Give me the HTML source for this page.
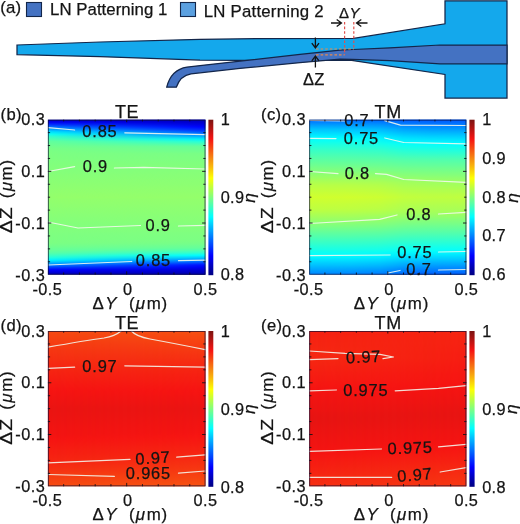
<!DOCTYPE html>
<html><head><meta charset="utf-8"><title>Figure</title>
<style>html,body{margin:0;padding:0;background:#fff;}svg{display:block;}text{font-family:"Liberation Sans", Arial, sans-serif;fill:#141414;stroke:#141414;stroke-width:0.25px;}</style>
</head><body>
<svg width="520" height="524" viewBox="0 0 520 524">
<rect x="0" y="0" width="520" height="524" fill="#ffffff"/>
<defs><linearGradient id="cb" x1="0" y1="0" x2="0" y2="1"><stop offset="0.0000" stop-color="#7b1412"/><stop offset="0.0208" stop-color="#901412"/><stop offset="0.0417" stop-color="#a41412"/><stop offset="0.0625" stop-color="#b91412"/><stop offset="0.0833" stop-color="#cd1412"/><stop offset="0.1042" stop-color="#e21412"/><stop offset="0.1250" stop-color="#f61412"/><stop offset="0.1458" stop-color="#f62812"/><stop offset="0.1667" stop-color="#f63b12"/><stop offset="0.1875" stop-color="#f64f12"/><stop offset="0.2083" stop-color="#f66312"/><stop offset="0.2292" stop-color="#f67612"/><stop offset="0.2500" stop-color="#f68a12"/><stop offset="0.2708" stop-color="#f79c0f"/><stop offset="0.2917" stop-color="#f9af0d"/><stop offset="0.3125" stop-color="#fac20a"/><stop offset="0.3333" stop-color="#fbd608"/><stop offset="0.3542" stop-color="#fcea05"/><stop offset="0.3750" stop-color="#feff03"/><stop offset="0.3958" stop-color="#eaff16"/><stop offset="0.4167" stop-color="#d4ff2b"/><stop offset="0.4375" stop-color="#bfff40"/><stop offset="0.4583" stop-color="#aaff55"/><stop offset="0.4792" stop-color="#95ff6a"/><stop offset="0.5000" stop-color="#80ff80"/><stop offset="0.5208" stop-color="#6aff95"/><stop offset="0.5417" stop-color="#55ffaa"/><stop offset="0.5625" stop-color="#40ffbf"/><stop offset="0.5833" stop-color="#2affd5"/><stop offset="0.6042" stop-color="#15ffea"/><stop offset="0.6250" stop-color="#00ffff"/><stop offset="0.6458" stop-color="#00eaff"/><stop offset="0.6667" stop-color="#00d5ff"/><stop offset="0.6875" stop-color="#00bfff"/><stop offset="0.7083" stop-color="#00aaff"/><stop offset="0.7292" stop-color="#0095ff"/><stop offset="0.7500" stop-color="#0080ff"/><stop offset="0.7708" stop-color="#006aff"/><stop offset="0.7917" stop-color="#0055ff"/><stop offset="0.8125" stop-color="#0040ff"/><stop offset="0.8333" stop-color="#002aff"/><stop offset="0.8542" stop-color="#0015ff"/><stop offset="0.8750" stop-color="#0000ff"/><stop offset="0.8958" stop-color="#0000ea"/><stop offset="0.9167" stop-color="#0000d5"/><stop offset="0.9375" stop-color="#0000bf"/><stop offset="0.9583" stop-color="#0000aa"/><stop offset="0.9792" stop-color="#000095"/><stop offset="1.0000" stop-color="#000080"/></linearGradient><linearGradient id="gbL" x1="0" y1="0" x2="0" y2="1"><stop offset="0.0000" stop-color="#0000bf"/><stop offset="0.0156" stop-color="#0000f2"/><stop offset="0.0312" stop-color="#0030ff"/><stop offset="0.0469" stop-color="#006fff"/><stop offset="0.0625" stop-color="#00a9ff"/><stop offset="0.0781" stop-color="#00e1ff"/><stop offset="0.0938" stop-color="#0efff1"/><stop offset="0.1094" stop-color="#35ffca"/><stop offset="0.1250" stop-color="#4dffb2"/><stop offset="0.1406" stop-color="#62ff9d"/><stop offset="0.1562" stop-color="#69ff96"/><stop offset="0.1719" stop-color="#70ff8f"/><stop offset="0.1875" stop-color="#77ff88"/><stop offset="0.2031" stop-color="#7bff84"/><stop offset="0.2188" stop-color="#7cff83"/><stop offset="0.2344" stop-color="#7dff82"/><stop offset="0.2500" stop-color="#7eff81"/><stop offset="0.2656" stop-color="#80ff7f"/><stop offset="0.2812" stop-color="#81ff7e"/><stop offset="0.2969" stop-color="#82ff7d"/><stop offset="0.3125" stop-color="#83ff7c"/><stop offset="0.3281" stop-color="#84ff7b"/><stop offset="0.3438" stop-color="#85ff7a"/><stop offset="0.3594" stop-color="#87ff78"/><stop offset="0.3750" stop-color="#88ff77"/><stop offset="0.3906" stop-color="#8aff75"/><stop offset="0.4062" stop-color="#8bff74"/><stop offset="0.4219" stop-color="#8dff72"/><stop offset="0.4375" stop-color="#8eff71"/><stop offset="0.4531" stop-color="#90ff6f"/><stop offset="0.4688" stop-color="#91ff6e"/><stop offset="0.4844" stop-color="#93ff6c"/><stop offset="0.5000" stop-color="#94ff6b"/><stop offset="0.5156" stop-color="#92ff6d"/><stop offset="0.5312" stop-color="#91ff6e"/><stop offset="0.5469" stop-color="#8fff70"/><stop offset="0.5625" stop-color="#8eff71"/><stop offset="0.5781" stop-color="#8cff73"/><stop offset="0.5938" stop-color="#8bff74"/><stop offset="0.6094" stop-color="#89ff76"/><stop offset="0.6250" stop-color="#88ff77"/><stop offset="0.6406" stop-color="#86ff79"/><stop offset="0.6562" stop-color="#85ff7a"/><stop offset="0.6719" stop-color="#84ff7b"/><stop offset="0.6875" stop-color="#83ff7c"/><stop offset="0.7031" stop-color="#82ff7d"/><stop offset="0.7188" stop-color="#80ff7f"/><stop offset="0.7344" stop-color="#7fff80"/><stop offset="0.7500" stop-color="#7eff81"/><stop offset="0.7656" stop-color="#7dff82"/><stop offset="0.7812" stop-color="#7cff83"/><stop offset="0.7969" stop-color="#7bff84"/><stop offset="0.8125" stop-color="#75ff8a"/><stop offset="0.8281" stop-color="#6dff92"/><stop offset="0.8438" stop-color="#66ff99"/><stop offset="0.8594" stop-color="#58ffa7"/><stop offset="0.8750" stop-color="#3fffc0"/><stop offset="0.8906" stop-color="#21ffde"/><stop offset="0.9062" stop-color="#00f4ff"/><stop offset="0.9219" stop-color="#00bdff"/><stop offset="0.9375" stop-color="#007fff"/><stop offset="0.9531" stop-color="#003bff"/><stop offset="0.9688" stop-color="#0001ff"/><stop offset="0.9844" stop-color="#0000d9"/><stop offset="1.0000" stop-color="#0000b2"/></linearGradient><linearGradient id="gbR" x1="0" y1="0" x2="0" y2="1"><stop offset="0.0000" stop-color="#0000b3"/><stop offset="0.0156" stop-color="#0000ca"/><stop offset="0.0312" stop-color="#0000e2"/><stop offset="0.0469" stop-color="#0001ff"/><stop offset="0.0625" stop-color="#0021ff"/><stop offset="0.0781" stop-color="#004eff"/><stop offset="0.0938" stop-color="#007bff"/><stop offset="0.1094" stop-color="#00b6ff"/><stop offset="0.1250" stop-color="#00f1ff"/><stop offset="0.1406" stop-color="#24ffdb"/><stop offset="0.1562" stop-color="#46ffb9"/><stop offset="0.1719" stop-color="#62ff9d"/><stop offset="0.1875" stop-color="#6aff95"/><stop offset="0.2031" stop-color="#71ff8e"/><stop offset="0.2188" stop-color="#79ff86"/><stop offset="0.2344" stop-color="#7cff83"/><stop offset="0.2500" stop-color="#7dff82"/><stop offset="0.2656" stop-color="#7fff80"/><stop offset="0.2812" stop-color="#81ff7e"/><stop offset="0.2969" stop-color="#82ff7d"/><stop offset="0.3125" stop-color="#84ff7b"/><stop offset="0.3281" stop-color="#85ff7a"/><stop offset="0.3438" stop-color="#87ff78"/><stop offset="0.3594" stop-color="#88ff77"/><stop offset="0.3750" stop-color="#89ff76"/><stop offset="0.3906" stop-color="#8bff74"/><stop offset="0.4062" stop-color="#8cff73"/><stop offset="0.4219" stop-color="#8dff72"/><stop offset="0.4375" stop-color="#8fff70"/><stop offset="0.4531" stop-color="#90ff6f"/><stop offset="0.4688" stop-color="#91ff6e"/><stop offset="0.4844" stop-color="#93ff6c"/><stop offset="0.5000" stop-color="#94ff6b"/><stop offset="0.5156" stop-color="#92ff6d"/><stop offset="0.5312" stop-color="#91ff6e"/><stop offset="0.5469" stop-color="#90ff6f"/><stop offset="0.5625" stop-color="#8eff71"/><stop offset="0.5781" stop-color="#8dff72"/><stop offset="0.5938" stop-color="#8cff73"/><stop offset="0.6094" stop-color="#8bff74"/><stop offset="0.6250" stop-color="#89ff76"/><stop offset="0.6406" stop-color="#88ff77"/><stop offset="0.6562" stop-color="#87ff78"/><stop offset="0.6719" stop-color="#85ff7a"/><stop offset="0.6875" stop-color="#84ff7b"/><stop offset="0.7031" stop-color="#82ff7d"/><stop offset="0.7188" stop-color="#81ff7e"/><stop offset="0.7344" stop-color="#7fff80"/><stop offset="0.7500" stop-color="#7eff81"/><stop offset="0.7656" stop-color="#7dff82"/><stop offset="0.7812" stop-color="#7bff84"/><stop offset="0.7969" stop-color="#76ff89"/><stop offset="0.8125" stop-color="#6dff92"/><stop offset="0.8281" stop-color="#64ff9b"/><stop offset="0.8438" stop-color="#4effb1"/><stop offset="0.8594" stop-color="#2fffd0"/><stop offset="0.8750" stop-color="#00fdff"/><stop offset="0.8906" stop-color="#00c7ff"/><stop offset="0.9062" stop-color="#0086ff"/><stop offset="0.9219" stop-color="#004aff"/><stop offset="0.9375" stop-color="#000fff"/><stop offset="0.9531" stop-color="#0000f1"/><stop offset="0.9688" stop-color="#0000d3"/><stop offset="0.9844" stop-color="#0000bd"/><stop offset="1.0000" stop-color="#0000a8"/></linearGradient><linearGradient id="mbg" x1="0" y1="0" x2="1" y2="0"><stop offset="0.0000" stop-color="#ffffff" stop-opacity="0.000"/><stop offset="1.0000" stop-color="#ffffff" stop-opacity="1.000"/></linearGradient><mask id="mb" maskContentUnits="userSpaceOnUse"><rect x="47.9" y="0" width="157.6" height="524" fill="url(#mbg)"/></mask><linearGradient id="gcL" x1="0" y1="0" x2="0" y2="1"><stop offset="0.0000" stop-color="#006aff"/><stop offset="0.0156" stop-color="#0082ff"/><stop offset="0.0312" stop-color="#0099ff"/><stop offset="0.0469" stop-color="#00afff"/><stop offset="0.0625" stop-color="#00c4ff"/><stop offset="0.0781" stop-color="#00d4ff"/><stop offset="0.0938" stop-color="#00e4ff"/><stop offset="0.1094" stop-color="#00f4ff"/><stop offset="0.1250" stop-color="#04fffb"/><stop offset="0.1406" stop-color="#0ffff0"/><stop offset="0.1562" stop-color="#1bffe4"/><stop offset="0.1719" stop-color="#27ffd8"/><stop offset="0.1875" stop-color="#32ffcd"/><stop offset="0.2031" stop-color="#3cffc3"/><stop offset="0.2188" stop-color="#45ffba"/><stop offset="0.2344" stop-color="#4effb1"/><stop offset="0.2500" stop-color="#56ffa9"/><stop offset="0.2656" stop-color="#5fffa0"/><stop offset="0.2812" stop-color="#67ff98"/><stop offset="0.2969" stop-color="#70ff8f"/><stop offset="0.3125" stop-color="#79ff86"/><stop offset="0.3281" stop-color="#81ff7e"/><stop offset="0.3438" stop-color="#8aff75"/><stop offset="0.3594" stop-color="#93ff6c"/><stop offset="0.3750" stop-color="#9cff63"/><stop offset="0.3906" stop-color="#a6ff59"/><stop offset="0.4062" stop-color="#afff50"/><stop offset="0.4219" stop-color="#b8ff47"/><stop offset="0.4375" stop-color="#bdff42"/><stop offset="0.4531" stop-color="#c2ff3d"/><stop offset="0.4688" stop-color="#c7ff38"/><stop offset="0.4844" stop-color="#ccff33"/><stop offset="0.5000" stop-color="#d1ff2e"/><stop offset="0.5156" stop-color="#cdff32"/><stop offset="0.5312" stop-color="#c9ff36"/><stop offset="0.5469" stop-color="#c5ff3a"/><stop offset="0.5625" stop-color="#c2ff3d"/><stop offset="0.5781" stop-color="#beff41"/><stop offset="0.5938" stop-color="#b6ff49"/><stop offset="0.6094" stop-color="#adff52"/><stop offset="0.6250" stop-color="#a4ff5b"/><stop offset="0.6406" stop-color="#9bff64"/><stop offset="0.6562" stop-color="#92ff6d"/><stop offset="0.6719" stop-color="#88ff77"/><stop offset="0.6875" stop-color="#7eff81"/><stop offset="0.7031" stop-color="#73ff8c"/><stop offset="0.7188" stop-color="#69ff96"/><stop offset="0.7344" stop-color="#5effa1"/><stop offset="0.7500" stop-color="#54ffab"/><stop offset="0.7656" stop-color="#49ffb6"/><stop offset="0.7812" stop-color="#3fffc0"/><stop offset="0.7969" stop-color="#35ffca"/><stop offset="0.8125" stop-color="#2affd5"/><stop offset="0.8281" stop-color="#20ffdf"/><stop offset="0.8438" stop-color="#16ffe9"/><stop offset="0.8594" stop-color="#0bfff4"/><stop offset="0.8750" stop-color="#01fffe"/><stop offset="0.8906" stop-color="#00f1ff"/><stop offset="0.9062" stop-color="#00e2ff"/><stop offset="0.9219" stop-color="#00d2ff"/><stop offset="0.9375" stop-color="#00c3ff"/><stop offset="0.9531" stop-color="#00b3ff"/><stop offset="0.9688" stop-color="#00a4ff"/><stop offset="0.9844" stop-color="#0094ff"/><stop offset="1.0000" stop-color="#0085ff"/></linearGradient><linearGradient id="gcR" x1="0" y1="0" x2="0" y2="1"><stop offset="0.0000" stop-color="#0057ff"/><stop offset="0.0156" stop-color="#0068ff"/><stop offset="0.0312" stop-color="#0079ff"/><stop offset="0.0469" stop-color="#008aff"/><stop offset="0.0625" stop-color="#009bff"/><stop offset="0.0781" stop-color="#00adff"/><stop offset="0.0938" stop-color="#00beff"/><stop offset="0.1094" stop-color="#00cfff"/><stop offset="0.1250" stop-color="#00dfff"/><stop offset="0.1406" stop-color="#00efff"/><stop offset="0.1562" stop-color="#01fffe"/><stop offset="0.1719" stop-color="#0dfff2"/><stop offset="0.1875" stop-color="#19ffe6"/><stop offset="0.2031" stop-color="#25ffda"/><stop offset="0.2188" stop-color="#31ffce"/><stop offset="0.2344" stop-color="#3effc1"/><stop offset="0.2500" stop-color="#4affb5"/><stop offset="0.2656" stop-color="#55ffaa"/><stop offset="0.2812" stop-color="#5dffa2"/><stop offset="0.2969" stop-color="#65ff9a"/><stop offset="0.3125" stop-color="#6eff91"/><stop offset="0.3281" stop-color="#76ff89"/><stop offset="0.3438" stop-color="#7eff81"/><stop offset="0.3594" stop-color="#86ff79"/><stop offset="0.3750" stop-color="#8fff70"/><stop offset="0.3906" stop-color="#97ff68"/><stop offset="0.4062" stop-color="#9fff60"/><stop offset="0.4219" stop-color="#a4ff5b"/><stop offset="0.4375" stop-color="#aaff55"/><stop offset="0.4531" stop-color="#afff50"/><stop offset="0.4688" stop-color="#b4ff4b"/><stop offset="0.4844" stop-color="#baff45"/><stop offset="0.5000" stop-color="#beff41"/><stop offset="0.5156" stop-color="#baff45"/><stop offset="0.5312" stop-color="#b6ff49"/><stop offset="0.5469" stop-color="#b1ff4e"/><stop offset="0.5625" stop-color="#adff52"/><stop offset="0.5781" stop-color="#a9ff56"/><stop offset="0.5938" stop-color="#a4ff5b"/><stop offset="0.6094" stop-color="#9cff63"/><stop offset="0.6250" stop-color="#93ff6c"/><stop offset="0.6406" stop-color="#89ff76"/><stop offset="0.6562" stop-color="#80ff7f"/><stop offset="0.6719" stop-color="#77ff88"/><stop offset="0.6875" stop-color="#6dff92"/><stop offset="0.7031" stop-color="#64ff9b"/><stop offset="0.7188" stop-color="#5affa5"/><stop offset="0.7344" stop-color="#50ffaf"/><stop offset="0.7500" stop-color="#45ffba"/><stop offset="0.7656" stop-color="#3affc5"/><stop offset="0.7812" stop-color="#30ffcf"/><stop offset="0.7969" stop-color="#25ffda"/><stop offset="0.8125" stop-color="#1affe5"/><stop offset="0.8281" stop-color="#0ffff0"/><stop offset="0.8438" stop-color="#05fffa"/><stop offset="0.8594" stop-color="#00f5ff"/><stop offset="0.8750" stop-color="#00e4ff"/><stop offset="0.8906" stop-color="#00d3ff"/><stop offset="0.9062" stop-color="#00c3ff"/><stop offset="0.9219" stop-color="#00b1ff"/><stop offset="0.9375" stop-color="#00a0ff"/><stop offset="0.9531" stop-color="#008eff"/><stop offset="0.9688" stop-color="#007dff"/><stop offset="0.9844" stop-color="#006cff"/><stop offset="1.0000" stop-color="#005cff"/></linearGradient><linearGradient id="mcg" x1="0" y1="0" x2="1" y2="0"><stop offset="0.0000" stop-color="#ffffff" stop-opacity="0.000"/><stop offset="0.2595" stop-color="#ffffff" stop-opacity="0.050"/><stop offset="0.4504" stop-color="#ffffff" stop-opacity="0.250"/><stop offset="0.5267" stop-color="#ffffff" stop-opacity="0.500"/><stop offset="0.6031" stop-color="#ffffff" stop-opacity="0.780"/><stop offset="0.7684" stop-color="#ffffff" stop-opacity="0.950"/><stop offset="1.0000" stop-color="#ffffff" stop-opacity="1.000"/></linearGradient><mask id="mc" maskContentUnits="userSpaceOnUse"><rect x="309.2" y="0" width="157.2" height="524" fill="url(#mcg)"/></mask><linearGradient id="gdL" x1="0" y1="0" x2="0" y2="1"><stop offset="0.0000" stop-color="#f64a12"/><stop offset="0.0156" stop-color="#f64712"/><stop offset="0.0312" stop-color="#f64512"/><stop offset="0.0469" stop-color="#f64212"/><stop offset="0.0625" stop-color="#f64012"/><stop offset="0.0781" stop-color="#f63d12"/><stop offset="0.0938" stop-color="#f63b12"/><stop offset="0.1094" stop-color="#f63912"/><stop offset="0.1250" stop-color="#f63612"/><stop offset="0.1406" stop-color="#f63412"/><stop offset="0.1562" stop-color="#f63212"/><stop offset="0.1719" stop-color="#f63012"/><stop offset="0.1875" stop-color="#f62e12"/><stop offset="0.2031" stop-color="#f62b12"/><stop offset="0.2188" stop-color="#f62912"/><stop offset="0.2344" stop-color="#f62712"/><stop offset="0.2500" stop-color="#f62512"/><stop offset="0.2656" stop-color="#f62312"/><stop offset="0.2812" stop-color="#f62112"/><stop offset="0.2969" stop-color="#f61f12"/><stop offset="0.3125" stop-color="#f61d12"/><stop offset="0.3281" stop-color="#f61b12"/><stop offset="0.3438" stop-color="#f61912"/><stop offset="0.3594" stop-color="#f61712"/><stop offset="0.3750" stop-color="#f61512"/><stop offset="0.3906" stop-color="#f51412"/><stop offset="0.4062" stop-color="#f41412"/><stop offset="0.4219" stop-color="#f21412"/><stop offset="0.4375" stop-color="#f11412"/><stop offset="0.4531" stop-color="#ef1412"/><stop offset="0.4688" stop-color="#ee1412"/><stop offset="0.4844" stop-color="#ec1412"/><stop offset="0.5000" stop-color="#eb1412"/><stop offset="0.5156" stop-color="#eb1412"/><stop offset="0.5312" stop-color="#ec1412"/><stop offset="0.5469" stop-color="#ec1412"/><stop offset="0.5625" stop-color="#ed1412"/><stop offset="0.5781" stop-color="#ee1412"/><stop offset="0.5938" stop-color="#ef1412"/><stop offset="0.6094" stop-color="#f01412"/><stop offset="0.6250" stop-color="#f11412"/><stop offset="0.6406" stop-color="#f21412"/><stop offset="0.6562" stop-color="#f21412"/><stop offset="0.6719" stop-color="#f31412"/><stop offset="0.6875" stop-color="#f51412"/><stop offset="0.7031" stop-color="#f61512"/><stop offset="0.7188" stop-color="#f61712"/><stop offset="0.7344" stop-color="#f61912"/><stop offset="0.7500" stop-color="#f61b12"/><stop offset="0.7656" stop-color="#f61d12"/><stop offset="0.7812" stop-color="#f61e12"/><stop offset="0.7969" stop-color="#f62012"/><stop offset="0.8125" stop-color="#f62212"/><stop offset="0.8281" stop-color="#f62412"/><stop offset="0.8438" stop-color="#f62612"/><stop offset="0.8594" stop-color="#f62912"/><stop offset="0.8750" stop-color="#f62d12"/><stop offset="0.8906" stop-color="#f63112"/><stop offset="0.9062" stop-color="#f63512"/><stop offset="0.9219" stop-color="#f63912"/><stop offset="0.9375" stop-color="#f63d12"/><stop offset="0.9531" stop-color="#f64112"/><stop offset="0.9688" stop-color="#f64512"/><stop offset="0.9844" stop-color="#f64912"/><stop offset="1.0000" stop-color="#f64d12"/></linearGradient><linearGradient id="gdR" x1="0" y1="0" x2="0" y2="1"><stop offset="0.0000" stop-color="#f65012"/><stop offset="0.0156" stop-color="#f64d12"/><stop offset="0.0312" stop-color="#f64a12"/><stop offset="0.0469" stop-color="#f64712"/><stop offset="0.0625" stop-color="#f64412"/><stop offset="0.0781" stop-color="#f64112"/><stop offset="0.0938" stop-color="#f63e12"/><stop offset="0.1094" stop-color="#f63b12"/><stop offset="0.1250" stop-color="#f63912"/><stop offset="0.1406" stop-color="#f63612"/><stop offset="0.1562" stop-color="#f63312"/><stop offset="0.1719" stop-color="#f63112"/><stop offset="0.1875" stop-color="#f62e12"/><stop offset="0.2031" stop-color="#f62b12"/><stop offset="0.2188" stop-color="#f62912"/><stop offset="0.2344" stop-color="#f62612"/><stop offset="0.2500" stop-color="#f62412"/><stop offset="0.2656" stop-color="#f62212"/><stop offset="0.2812" stop-color="#f62012"/><stop offset="0.2969" stop-color="#f61e12"/><stop offset="0.3125" stop-color="#f61d12"/><stop offset="0.3281" stop-color="#f61b12"/><stop offset="0.3438" stop-color="#f61912"/><stop offset="0.3594" stop-color="#f61712"/><stop offset="0.3750" stop-color="#f61512"/><stop offset="0.3906" stop-color="#f51412"/><stop offset="0.4062" stop-color="#f41412"/><stop offset="0.4219" stop-color="#f21412"/><stop offset="0.4375" stop-color="#f11412"/><stop offset="0.4531" stop-color="#ef1412"/><stop offset="0.4688" stop-color="#ee1412"/><stop offset="0.4844" stop-color="#ec1412"/><stop offset="0.5000" stop-color="#eb1412"/><stop offset="0.5156" stop-color="#eb1412"/><stop offset="0.5312" stop-color="#ec1412"/><stop offset="0.5469" stop-color="#ed1412"/><stop offset="0.5625" stop-color="#ee1412"/><stop offset="0.5781" stop-color="#ef1412"/><stop offset="0.5938" stop-color="#f01412"/><stop offset="0.6094" stop-color="#f11412"/><stop offset="0.6250" stop-color="#f21412"/><stop offset="0.6406" stop-color="#f31412"/><stop offset="0.6562" stop-color="#f41412"/><stop offset="0.6719" stop-color="#f61512"/><stop offset="0.6875" stop-color="#f61712"/><stop offset="0.7031" stop-color="#f61912"/><stop offset="0.7188" stop-color="#f61b12"/><stop offset="0.7344" stop-color="#f61d12"/><stop offset="0.7500" stop-color="#f62012"/><stop offset="0.7656" stop-color="#f62212"/><stop offset="0.7812" stop-color="#f62412"/><stop offset="0.7969" stop-color="#f62612"/><stop offset="0.8125" stop-color="#f62912"/><stop offset="0.8281" stop-color="#f62c12"/><stop offset="0.8438" stop-color="#f62f12"/><stop offset="0.8594" stop-color="#f63212"/><stop offset="0.8750" stop-color="#f63512"/><stop offset="0.8906" stop-color="#f63812"/><stop offset="0.9062" stop-color="#f63b12"/><stop offset="0.9219" stop-color="#f63f12"/><stop offset="0.9375" stop-color="#f64312"/><stop offset="0.9531" stop-color="#f64712"/><stop offset="0.9688" stop-color="#f64b12"/><stop offset="0.9844" stop-color="#f64f12"/><stop offset="1.0000" stop-color="#f65312"/></linearGradient><linearGradient id="mdg" x1="0" y1="0" x2="1" y2="0"><stop offset="0.0000" stop-color="#ffffff" stop-opacity="0.000"/><stop offset="1.0000" stop-color="#ffffff" stop-opacity="1.000"/></linearGradient><mask id="md" maskContentUnits="userSpaceOnUse"><rect x="47.9" y="0" width="157.6" height="524" fill="url(#mdg)"/></mask><linearGradient id="geL" x1="0" y1="0" x2="0" y2="1"><stop offset="0.0000" stop-color="#f62112"/><stop offset="0.0156" stop-color="#f62112"/><stop offset="0.0312" stop-color="#f62212"/><stop offset="0.0469" stop-color="#f62312"/><stop offset="0.0625" stop-color="#f62412"/><stop offset="0.0781" stop-color="#f62512"/><stop offset="0.0938" stop-color="#f62512"/><stop offset="0.1094" stop-color="#f62612"/><stop offset="0.1250" stop-color="#f62712"/><stop offset="0.1406" stop-color="#f62812"/><stop offset="0.1562" stop-color="#f62912"/><stop offset="0.1719" stop-color="#f62812"/><stop offset="0.1875" stop-color="#f62712"/><stop offset="0.2031" stop-color="#f62512"/><stop offset="0.2188" stop-color="#f62412"/><stop offset="0.2344" stop-color="#f62212"/><stop offset="0.2500" stop-color="#f62112"/><stop offset="0.2656" stop-color="#f61f12"/><stop offset="0.2812" stop-color="#f61e12"/><stop offset="0.2969" stop-color="#f61c12"/><stop offset="0.3125" stop-color="#f61b12"/><stop offset="0.3281" stop-color="#f61912"/><stop offset="0.3438" stop-color="#f61812"/><stop offset="0.3594" stop-color="#f61612"/><stop offset="0.3750" stop-color="#f61412"/><stop offset="0.3906" stop-color="#f51412"/><stop offset="0.4062" stop-color="#f41412"/><stop offset="0.4219" stop-color="#f21412"/><stop offset="0.4375" stop-color="#f11412"/><stop offset="0.4531" stop-color="#f01412"/><stop offset="0.4688" stop-color="#ef1412"/><stop offset="0.4844" stop-color="#ee1412"/><stop offset="0.5000" stop-color="#ed1412"/><stop offset="0.5156" stop-color="#ec1412"/><stop offset="0.5312" stop-color="#ea1412"/><stop offset="0.5469" stop-color="#e91412"/><stop offset="0.5625" stop-color="#e81412"/><stop offset="0.5781" stop-color="#e81412"/><stop offset="0.5938" stop-color="#e91412"/><stop offset="0.6094" stop-color="#ea1412"/><stop offset="0.6250" stop-color="#eb1412"/><stop offset="0.6406" stop-color="#ec1412"/><stop offset="0.6562" stop-color="#ed1412"/><stop offset="0.6719" stop-color="#ee1412"/><stop offset="0.6875" stop-color="#ef1412"/><stop offset="0.7031" stop-color="#f01412"/><stop offset="0.7188" stop-color="#f11412"/><stop offset="0.7344" stop-color="#f21412"/><stop offset="0.7500" stop-color="#f31412"/><stop offset="0.7656" stop-color="#f41412"/><stop offset="0.7812" stop-color="#f61412"/><stop offset="0.7969" stop-color="#f61612"/><stop offset="0.8125" stop-color="#f61812"/><stop offset="0.8281" stop-color="#f61a12"/><stop offset="0.8438" stop-color="#f61c12"/><stop offset="0.8594" stop-color="#f61d12"/><stop offset="0.8750" stop-color="#f61f12"/><stop offset="0.8906" stop-color="#f62112"/><stop offset="0.9062" stop-color="#f62312"/><stop offset="0.9219" stop-color="#f62512"/><stop offset="0.9375" stop-color="#f62712"/><stop offset="0.9531" stop-color="#f62912"/><stop offset="0.9688" stop-color="#f62b12"/><stop offset="0.9844" stop-color="#f62d12"/><stop offset="1.0000" stop-color="#f63012"/></linearGradient><linearGradient id="geR" x1="0" y1="0" x2="0" y2="1"><stop offset="0.0000" stop-color="#f62512"/><stop offset="0.0156" stop-color="#f62512"/><stop offset="0.0312" stop-color="#f62412"/><stop offset="0.0469" stop-color="#f62312"/><stop offset="0.0625" stop-color="#f62212"/><stop offset="0.0781" stop-color="#f62212"/><stop offset="0.0938" stop-color="#f62112"/><stop offset="0.1094" stop-color="#f62012"/><stop offset="0.1250" stop-color="#f62012"/><stop offset="0.1406" stop-color="#f61f12"/><stop offset="0.1562" stop-color="#f61e12"/><stop offset="0.1719" stop-color="#f61e12"/><stop offset="0.1875" stop-color="#f61d12"/><stop offset="0.2031" stop-color="#f61c12"/><stop offset="0.2188" stop-color="#f61b12"/><stop offset="0.2344" stop-color="#f61a12"/><stop offset="0.2500" stop-color="#f61912"/><stop offset="0.2656" stop-color="#f61812"/><stop offset="0.2812" stop-color="#f61712"/><stop offset="0.2969" stop-color="#f61712"/><stop offset="0.3125" stop-color="#f61612"/><stop offset="0.3281" stop-color="#f61512"/><stop offset="0.3438" stop-color="#f61412"/><stop offset="0.3594" stop-color="#f51412"/><stop offset="0.3750" stop-color="#f31412"/><stop offset="0.3906" stop-color="#f21412"/><stop offset="0.4062" stop-color="#f11412"/><stop offset="0.4219" stop-color="#f01412"/><stop offset="0.4375" stop-color="#ef1412"/><stop offset="0.4531" stop-color="#ee1412"/><stop offset="0.4688" stop-color="#ed1412"/><stop offset="0.4844" stop-color="#eb1412"/><stop offset="0.5000" stop-color="#ea1412"/><stop offset="0.5156" stop-color="#e91412"/><stop offset="0.5312" stop-color="#e81412"/><stop offset="0.5469" stop-color="#e81412"/><stop offset="0.5625" stop-color="#e91412"/><stop offset="0.5781" stop-color="#ea1412"/><stop offset="0.5938" stop-color="#eb1412"/><stop offset="0.6094" stop-color="#ec1412"/><stop offset="0.6250" stop-color="#ed1412"/><stop offset="0.6406" stop-color="#ef1412"/><stop offset="0.6562" stop-color="#f01412"/><stop offset="0.6719" stop-color="#f11412"/><stop offset="0.6875" stop-color="#f21412"/><stop offset="0.7031" stop-color="#f31412"/><stop offset="0.7188" stop-color="#f41412"/><stop offset="0.7344" stop-color="#f61412"/><stop offset="0.7500" stop-color="#f61612"/><stop offset="0.7656" stop-color="#f61812"/><stop offset="0.7812" stop-color="#f61a12"/><stop offset="0.7969" stop-color="#f61c12"/><stop offset="0.8125" stop-color="#f61e12"/><stop offset="0.8281" stop-color="#f62012"/><stop offset="0.8438" stop-color="#f62212"/><stop offset="0.8594" stop-color="#f62512"/><stop offset="0.8750" stop-color="#f62712"/><stop offset="0.8906" stop-color="#f62912"/><stop offset="0.9062" stop-color="#f62b12"/><stop offset="0.9219" stop-color="#f62d12"/><stop offset="0.9375" stop-color="#f62f12"/><stop offset="0.9531" stop-color="#f63112"/><stop offset="0.9688" stop-color="#f63312"/><stop offset="0.9844" stop-color="#f63512"/><stop offset="1.0000" stop-color="#f63712"/></linearGradient><linearGradient id="meg" x1="0" y1="0" x2="1" y2="0"><stop offset="0.0000" stop-color="#ffffff" stop-opacity="0.000"/><stop offset="1.0000" stop-color="#ffffff" stop-opacity="1.000"/></linearGradient><mask id="me" maskContentUnits="userSpaceOnUse"><rect x="309.2" y="0" width="157.2" height="524" fill="url(#meg)"/></mask></defs>
<path d="M17,45 L100,42 L200,39.3 L260,38.6 L353.5,38.4 L445,23.8 L445,0.8 L507,0.8 L507,98 L445,98 L445,74.5 L350,60.2 L240,60.3 L200,60.1 L100,56.7 L17,54.6 Z" fill="#14a8ec" stroke="#13264a" stroke-width="1.25" stroke-linejoin="miter"/>
<path d="M166.7,87.2 C169.5,76 176,68.8 187,67.1 L200,65.6 L300,54.4 L340,50.1 L353,49.5 L390,47.8 L440,45 L507,45 L507,63.8 L440,63.8 L390,60.6 L352,59.4 L340,59.2 L300,62.7 L240,68.4 L200,72.8 L191,73.9 C184,75 179,79.6 176.3,87.2 Z" fill="#4472c2" stroke="#13264a" stroke-width="1.25"/>
<rect x="26.5" y="2.5" width="15" height="14" fill="#4472c2" stroke="#13264a" stroke-width="1.1"/>
<rect x="180.5" y="2.5" width="15" height="14" fill="#5ba0e0" stroke="#13264a" stroke-width="1.1"/>
<text transform="translate(0.30 13.30)" font-size="16.8" text-anchor="start" letter-spacing="0.20">(a)</text>
<text transform="translate(50.00 15.30)" font-size="16.8" text-anchor="start" letter-spacing="0.05">LN Patterning 1</text>
<text transform="translate(203.80 16.90)" font-size="16.8" text-anchor="start" letter-spacing="0.22">LN Patterning 2</text>
<text transform="translate(339.00 17.50)" font-size="15" text-anchor="start">Δ<tspan font-style="italic" dx="0.5">Y</tspan></text>
<text transform="translate(303.00 84.60)" font-size="16.5" text-anchor="start" letter-spacing="0.30">ΔZ</text>
<path d="M344.6,22 V55 M353.8,22 V49" stroke="#e0504c" stroke-width="1.2" stroke-dasharray="2.6,2" fill="none"/>
<path d="M316,49 H353.8 M316,54.8 H344.6" stroke="#e58a4e" stroke-width="1.2" stroke-dasharray="2.6,2" fill="none"/>
<path d="M331.0,23.0 L341.5,23.0 M336.7,26.6 L341.5,23.0 L336.7,19.4 M367.5,23.0 L356.5,23.0 M361.3,19.4 L356.5,23.0 L361.3,26.6 M315.4,37.5 L315.4,48.0 M311.8,43.2 L315.4,48.0 L319.0,43.2 M315.4,67.5 L315.4,56.0 M319.0,60.8 L315.4,56.0 L311.8,60.8" stroke="#141414" stroke-width="1.3" fill="none"/>
<rect x="47.9" y="119.7" width="157.6" height="155.0" fill="url(#gbL)"/>
<rect x="47.9" y="119.7" width="157.6" height="155.0" fill="url(#gbR)" mask="url(#mb)"/>
<path d="M48,127.6 L74.6,130" stroke="#f4f8ee" stroke-width="1.25" fill="none" stroke-linecap="round" stroke-linejoin="round" opacity="0.88"/>
<path d="M124.8,132.8 L205.2,134.6" stroke="#f4f8ee" stroke-width="1.25" fill="none" stroke-linecap="round" stroke-linejoin="round" opacity="0.88"/>
<path d="M48,171.5 L74.6,166.7" stroke="#f4f8ee" stroke-width="1.25" fill="none" stroke-linecap="round" stroke-linejoin="round" opacity="0.88"/>
<path d="M114.4,168 L143.8,167.4 L205,169" stroke="#f4f8ee" stroke-width="1.25" fill="none" stroke-linecap="round" stroke-linejoin="round" opacity="0.88"/>
<path d="M48,222 L78,228 L140.4,225.5" stroke="#f4f8ee" stroke-width="1.25" fill="none" stroke-linecap="round" stroke-linejoin="round" opacity="0.88"/>
<path d="M178.5,226 L205.2,225.4" stroke="#f4f8ee" stroke-width="1.25" fill="none" stroke-linecap="round" stroke-linejoin="round" opacity="0.88"/>
<path d="M48,265 L131.7,261.5" stroke="#f4f8ee" stroke-width="1.25" fill="none" stroke-linecap="round" stroke-linejoin="round" opacity="0.88"/>
<path d="M178.5,260.7 L205.2,260.2" stroke="#f4f8ee" stroke-width="1.25" fill="none" stroke-linecap="round" stroke-linejoin="round" opacity="0.88"/>
<path d="M47.9,132.62 h2.2 M205.5,132.62 h-2.2 M47.9,145.53 h2.2 M205.5,145.53 h-2.2 M47.9,158.45 h2.2 M205.5,158.45 h-2.2 M47.9,171.37 h3.4 M205.5,171.37 h-3.4 M47.9,184.28 h2.2 M205.5,184.28 h-2.2 M47.9,197.20 h2.2 M205.5,197.20 h-2.2 M47.9,210.12 h2.2 M205.5,210.12 h-2.2 M47.9,223.03 h3.4 M205.5,223.03 h-3.4 M47.9,235.95 h2.2 M205.5,235.95 h-2.2 M47.9,248.87 h2.2 M205.5,248.87 h-2.2 M47.9,261.78 h2.2 M205.5,261.78 h-2.2 M63.66,274.7 v-2.2 M63.66,119.7 v1.7 M79.42,274.7 v-2.2 M79.42,119.7 v1.7 M95.18,274.7 v-2.2 M95.18,119.7 v1.7 M110.94,274.7 v-2.2 M110.94,119.7 v1.7 M126.70,274.7 v-3.4 M126.70,119.7 v2.5 M142.46,274.7 v-2.2 M142.46,119.7 v1.7 M158.22,274.7 v-2.2 M158.22,119.7 v1.7 M173.98,274.7 v-2.2 M173.98,119.7 v1.7 M189.74,274.7 v-2.2 M189.74,119.7 v1.7" stroke="#141414" stroke-width="1" fill="none" opacity="0.9"/>
<rect x="48.35" y="120.15" width="156.70" height="154.10" fill="none" stroke="#0c0c34" stroke-width="0.9" opacity="0.75"/>
<text transform="translate(99.50 136.70) translate(0.42 0)" font-size="16.4" text-anchor="middle" letter-spacing="0.85">0.85</text>
<text transform="translate(95.00 171.50) translate(0.42 0)" font-size="16.4" text-anchor="middle" letter-spacing="0.85">0.9</text>
<text transform="translate(157.70 231.20) translate(0.42 0)" font-size="16.4" text-anchor="middle" letter-spacing="0.85">0.9</text>
<text transform="translate(153.00 266.20) translate(0.42 0)" font-size="16.4" text-anchor="middle" letter-spacing="0.85">0.85</text>
<rect x="208.4" y="119.7" width="4.9" height="155.5" fill="url(#cb)"/>
<text transform="translate(220.70 124.60)" font-size="16.3" text-anchor="start" letter-spacing="0.30">1</text>
<text transform="translate(220.70 202.50)" font-size="16.3" text-anchor="start" letter-spacing="0.30">0.9</text>
<text transform="translate(220.70 280.30)" font-size="16.3" text-anchor="start" letter-spacing="0.30">0.8</text>
<text transform="translate(44.80 125.20) translate(0.50 0)" font-size="16.3" text-anchor="end" letter-spacing="0.50">0.3</text>
<text transform="translate(44.80 177.07) translate(0.50 0)" font-size="16.3" text-anchor="end" letter-spacing="0.50">0.1</text>
<text transform="translate(44.80 228.53) translate(0.50 0)" font-size="16.3" text-anchor="end" letter-spacing="0.50">-0.1</text>
<text transform="translate(44.80 280.80) translate(0.50 0)" font-size="16.3" text-anchor="end" letter-spacing="0.50">-0.3</text>
<text transform="translate(47.10 294.80) translate(0.20 0)" font-size="16.3" text-anchor="middle" letter-spacing="0.40">-0.5</text>
<text transform="translate(127.60 294.80) translate(0.20 0)" font-size="16.3" text-anchor="middle" letter-spacing="0.40">0</text>
<text transform="translate(205.30 294.80) translate(0.20 0)" font-size="16.3" text-anchor="middle" letter-spacing="0.40">0.5</text>
<text transform="translate(0.50 120.10)" font-size="16.6" text-anchor="start" letter-spacing="0.40">(b)</text>
<text transform="translate(126.80 117.80) translate(0.30 0)" font-size="18" text-anchor="middle" letter-spacing="0.60">TE</text>
<text transform="translate(92.60 308.70)" font-size="16.9" text-anchor="start" letter-spacing="0.80">Δ<tspan font-style="italic" dx="0.6">Y</tspan></text>
<text transform="translate(128.90 308.70)" font-size="16.9" text-anchor="start" letter-spacing="0.80">(<tspan font-style="italic" dx="0.5">μ</tspan><tspan dx="0.8">m)</tspan></text>
<text transform="translate(12.30 233.20) rotate(-90.0) scale(1.120 1)" font-size="17.4" text-anchor="start" letter-spacing="0.80">ΔZ</text>
<text transform="translate(12.30 198.20) rotate(-90.0)" font-size="16.9" text-anchor="start" letter-spacing="0.80">(<tspan font-style="italic" dx="0.5">μ</tspan><tspan dx="0.8">m)</tspan></text>
<text transform="translate(255.3 197.8) rotate(-90) scale(1.09 1)" font-size="16" font-style="italic" font-family="Liberation Serif, serif" text-anchor="middle" stroke="none">η</text>
<rect x="309.2" y="119.7" width="157.2" height="155.0" fill="url(#gcL)"/>
<rect x="309.2" y="119.7" width="157.2" height="155.0" fill="url(#gcR)" mask="url(#mc)"/>
<path d="M309.4,120.3 L345,120.9" stroke="#f4f8ee" stroke-width="1.25" fill="none" stroke-linecap="round" stroke-linejoin="round" opacity="0.88"/>
<path d="M384.8,120.7 L400.4,125.2 L466,125.5" stroke="#f4f8ee" stroke-width="1.25" fill="none" stroke-linecap="round" stroke-linejoin="round" opacity="0.88"/>
<path d="M309.4,138.3 L336,138.6" stroke="#f4f8ee" stroke-width="1.25" fill="none" stroke-linecap="round" stroke-linejoin="round" opacity="0.88"/>
<path d="M384.8,138 L403.8,142.5 L466,143.8" stroke="#f4f8ee" stroke-width="1.25" fill="none" stroke-linecap="round" stroke-linejoin="round" opacity="0.88"/>
<path d="M309.4,171.5 L338,173.6" stroke="#f4f8ee" stroke-width="1.25" fill="none" stroke-linecap="round" stroke-linejoin="round" opacity="0.88"/>
<path d="M375.5,173.6 L386.5,174.3 L403.8,179.5 L466,182.3" stroke="#f4f8ee" stroke-width="1.25" fill="none" stroke-linecap="round" stroke-linejoin="round" opacity="0.88"/>
<path d="M309.4,223.5 L379.6,219.3 L397,215" stroke="#f4f8ee" stroke-width="1.25" fill="none" stroke-linecap="round" stroke-linejoin="round" opacity="0.88"/>
<path d="M438.5,214 L466,212.4" stroke="#f4f8ee" stroke-width="1.25" fill="none" stroke-linecap="round" stroke-linejoin="round" opacity="0.88"/>
<path d="M309.4,255.6 L390,255" stroke="#f4f8ee" stroke-width="1.25" fill="none" stroke-linecap="round" stroke-linejoin="round" opacity="0.88"/>
<path d="M438.5,252 L466,251.5" stroke="#f4f8ee" stroke-width="1.25" fill="none" stroke-linecap="round" stroke-linejoin="round" opacity="0.88"/>
<path d="M388,273 L400,270.5" stroke="#f4f8ee" stroke-width="1.25" fill="none" stroke-linecap="round" stroke-linejoin="round" opacity="0.88"/>
<path d="M438.5,270 L466,269.5" stroke="#f4f8ee" stroke-width="1.25" fill="none" stroke-linecap="round" stroke-linejoin="round" opacity="0.88"/>
<path d="M309.2,132.62 h2.2 M466.4,132.62 h-2.2 M309.2,145.53 h2.2 M466.4,145.53 h-2.2 M309.2,158.45 h2.2 M466.4,158.45 h-2.2 M309.2,171.37 h3.4 M466.4,171.37 h-3.4 M309.2,184.28 h2.2 M466.4,184.28 h-2.2 M309.2,197.20 h2.2 M466.4,197.20 h-2.2 M309.2,210.12 h2.2 M466.4,210.12 h-2.2 M309.2,223.03 h3.4 M466.4,223.03 h-3.4 M309.2,235.95 h2.2 M466.4,235.95 h-2.2 M309.2,248.87 h2.2 M466.4,248.87 h-2.2 M309.2,261.78 h2.2 M466.4,261.78 h-2.2 M324.92,274.7 v-2.2 M324.92,119.7 v1.7 M340.64,274.7 v-2.2 M340.64,119.7 v1.7 M356.36,274.7 v-2.2 M356.36,119.7 v1.7 M372.08,274.7 v-2.2 M372.08,119.7 v1.7 M387.80,274.7 v-3.4 M387.80,119.7 v2.5 M403.52,274.7 v-2.2 M403.52,119.7 v1.7 M419.24,274.7 v-2.2 M419.24,119.7 v1.7 M434.96,274.7 v-2.2 M434.96,119.7 v1.7 M450.68,274.7 v-2.2 M450.68,119.7 v1.7" stroke="#141414" stroke-width="1" fill="none" opacity="0.9"/>
<rect x="309.65" y="120.15" width="156.30" height="154.10" fill="none" stroke="#0c0c34" stroke-width="0.9" opacity="0.75"/>
<text transform="translate(356.50 125.70) translate(0.42 0)" font-size="16.4" text-anchor="middle" letter-spacing="0.85">0.7</text>
<text transform="translate(361.00 143.90) translate(0.42 0)" font-size="16.4" text-anchor="middle" letter-spacing="0.85">0.75</text>
<text transform="translate(357.00 178.50) translate(0.42 0)" font-size="16.4" text-anchor="middle" letter-spacing="0.85">0.8</text>
<text transform="translate(418.50 219.70) translate(0.42 0)" font-size="16.4" text-anchor="middle" letter-spacing="0.85">0.8</text>
<text transform="translate(414.40 258.20) translate(0.42 0)" font-size="16.4" text-anchor="middle" letter-spacing="0.85">0.75</text>
<text transform="translate(418.60 275.40) translate(0.42 0)" font-size="16.4" text-anchor="middle" letter-spacing="0.85">0.7</text>
<rect x="469.4" y="119.7" width="5.2" height="155.5" fill="url(#cb)"/>
<text transform="translate(482.20 124.60)" font-size="16.3" text-anchor="start" letter-spacing="0.30">1</text>
<text transform="translate(482.20 163.75)" font-size="16.3" text-anchor="start" letter-spacing="0.30">0.9</text>
<text transform="translate(482.20 202.50)" font-size="16.3" text-anchor="start" letter-spacing="0.30">0.8</text>
<text transform="translate(482.20 241.25)" font-size="16.3" text-anchor="start" letter-spacing="0.30">0.7</text>
<text transform="translate(482.20 280.30)" font-size="16.3" text-anchor="start" letter-spacing="0.30">0.6</text>
<text transform="translate(305.60 125.20) translate(0.50 0)" font-size="16.3" text-anchor="end" letter-spacing="0.50">0.3</text>
<text transform="translate(305.60 177.07) translate(0.50 0)" font-size="16.3" text-anchor="end" letter-spacing="0.50">0.1</text>
<text transform="translate(305.60 228.53) translate(0.50 0)" font-size="16.3" text-anchor="end" letter-spacing="0.50">-0.1</text>
<text transform="translate(305.60 280.80) translate(0.50 0)" font-size="16.3" text-anchor="end" letter-spacing="0.50">-0.3</text>
<text transform="translate(308.40 294.80) translate(0.20 0)" font-size="16.3" text-anchor="middle" letter-spacing="0.40">-0.5</text>
<text transform="translate(388.70 294.80) translate(0.20 0)" font-size="16.3" text-anchor="middle" letter-spacing="0.40">0</text>
<text transform="translate(466.20 294.80) translate(0.20 0)" font-size="16.3" text-anchor="middle" letter-spacing="0.40">0.5</text>
<text transform="translate(261.00 120.10)" font-size="16.6" text-anchor="start" letter-spacing="0.40">(c)</text>
<text transform="translate(387.90 117.80) translate(0.30 0)" font-size="18" text-anchor="middle" letter-spacing="0.60">TM</text>
<text transform="translate(353.70 308.70)" font-size="16.9" text-anchor="start" letter-spacing="0.80">Δ<tspan font-style="italic" dx="0.6">Y</tspan></text>
<text transform="translate(390.00 308.70)" font-size="16.9" text-anchor="start" letter-spacing="0.80">(<tspan font-style="italic" dx="0.5">μ</tspan><tspan dx="0.8">m)</tspan></text>
<text transform="translate(272.80 233.20) rotate(-90.0) scale(1.120 1)" font-size="17.4" text-anchor="start" letter-spacing="0.80">ΔZ</text>
<text transform="translate(272.80 198.20) rotate(-90.0)" font-size="16.9" text-anchor="start" letter-spacing="0.80">(<tspan font-style="italic" dx="0.5">μ</tspan><tspan dx="0.8">m)</tspan></text>
<text transform="translate(517.7 197.8) rotate(-90) scale(1.09 1)" font-size="16" font-style="italic" font-family="Liberation Serif, serif" text-anchor="middle" stroke="none">η</text>
<rect x="47.9" y="331.0" width="157.6" height="155.3" fill="url(#gdL)"/>
<rect x="47.9" y="331.0" width="157.6" height="155.3" fill="url(#gdR)" mask="url(#md)"/>
<path d="M47.9,347.2 Q85,340.6 104,338 Q115,336.2 121,331" stroke="#f4f8ee" stroke-width="1.25" fill="none" stroke-linecap="round" stroke-linejoin="round" opacity="0.88"/>
<path d="M131.5,331 Q136,336.4 150,339 Q175,343.6 205.3,349.6" stroke="#f4f8ee" stroke-width="1.25" fill="none" stroke-linecap="round" stroke-linejoin="round" opacity="0.88"/>
<path d="M48,368.3 L74.6,367.2" stroke="#f4f8ee" stroke-width="1.25" fill="none" stroke-linecap="round" stroke-linejoin="round" opacity="0.88"/>
<path d="M124.8,365.8 L205,367.2" stroke="#f4f8ee" stroke-width="1.25" fill="none" stroke-linecap="round" stroke-linejoin="round" opacity="0.88"/>
<path d="M48,462.8 L130,459.3" stroke="#f4f8ee" stroke-width="1.25" fill="none" stroke-linecap="round" stroke-linejoin="round" opacity="0.88"/>
<path d="M176.7,457.2 L205,454.8" stroke="#f4f8ee" stroke-width="1.25" fill="none" stroke-linecap="round" stroke-linejoin="round" opacity="0.88"/>
<path d="M48,474.5 L114.4,476.3" stroke="#f4f8ee" stroke-width="1.25" fill="none" stroke-linecap="round" stroke-linejoin="round" opacity="0.88"/>
<path d="M178.5,473.1 L205,471" stroke="#f4f8ee" stroke-width="1.25" fill="none" stroke-linecap="round" stroke-linejoin="round" opacity="0.88"/>
<path d="M47.9,343.94 h2.2 M205.5,343.94 h-2.2 M47.9,356.88 h2.2 M205.5,356.88 h-2.2 M47.9,369.82 h2.2 M205.5,369.82 h-2.2 M47.9,382.77 h3.4 M205.5,382.77 h-3.4 M47.9,395.71 h2.2 M205.5,395.71 h-2.2 M47.9,408.65 h2.2 M205.5,408.65 h-2.2 M47.9,421.59 h2.2 M205.5,421.59 h-2.2 M47.9,434.53 h3.4 M205.5,434.53 h-3.4 M47.9,447.48 h2.2 M205.5,447.48 h-2.2 M47.9,460.42 h2.2 M205.5,460.42 h-2.2 M47.9,473.36 h2.2 M205.5,473.36 h-2.2 M63.66,486.3 v-2.2 M63.66,331.0 v1.7 M79.42,486.3 v-2.2 M79.42,331.0 v1.7 M95.18,486.3 v-2.2 M95.18,331.0 v1.7 M110.94,486.3 v-2.2 M110.94,331.0 v1.7 M126.70,486.3 v-3.4 M126.70,331.0 v2.5 M142.46,486.3 v-2.2 M142.46,331.0 v1.7 M158.22,486.3 v-2.2 M158.22,331.0 v1.7 M173.98,486.3 v-2.2 M173.98,331.0 v1.7 M189.74,486.3 v-2.2 M189.74,331.0 v1.7" stroke="#141414" stroke-width="1" fill="none" opacity="0.9"/>
<rect x="48.35" y="331.45" width="156.70" height="154.40" fill="none" stroke="#0c0c34" stroke-width="0.9" opacity="0.75"/>
<text transform="translate(99.50 372.20) translate(0.42 0)" font-size="16.4" text-anchor="middle" letter-spacing="0.85">0.97</text>
<text transform="translate(153.00 463.50) rotate(-4.0) translate(0.42 0)" font-size="16.4" text-anchor="middle" letter-spacing="0.85">0.97</text>
<text transform="translate(148.00 479.40) translate(0.42 0)" font-size="16.4" text-anchor="middle" letter-spacing="0.85">0.965</text>
<rect x="208.4" y="331.0" width="4.9" height="155.8" fill="url(#cb)"/>
<text transform="translate(220.70 336.50)" font-size="16.3" text-anchor="start" letter-spacing="0.30">1</text>
<text transform="translate(220.70 414.55)" font-size="16.3" text-anchor="start" letter-spacing="0.30">0.9</text>
<text transform="translate(220.70 492.50)" font-size="16.3" text-anchor="start" letter-spacing="0.30">0.8</text>
<text transform="translate(44.80 336.50) translate(0.50 0)" font-size="16.3" text-anchor="end" letter-spacing="0.50">0.3</text>
<text transform="translate(44.80 388.47) translate(0.50 0)" font-size="16.3" text-anchor="end" letter-spacing="0.50">0.1</text>
<text transform="translate(44.80 440.03) translate(0.50 0)" font-size="16.3" text-anchor="end" letter-spacing="0.50">-0.1</text>
<text transform="translate(44.80 492.40) translate(0.50 0)" font-size="16.3" text-anchor="end" letter-spacing="0.50">-0.3</text>
<text transform="translate(47.10 506.40) translate(0.20 0)" font-size="16.3" text-anchor="middle" letter-spacing="0.40">-0.5</text>
<text transform="translate(127.60 506.40) translate(0.20 0)" font-size="16.3" text-anchor="middle" letter-spacing="0.40">0</text>
<text transform="translate(205.30 506.40) translate(0.20 0)" font-size="16.3" text-anchor="middle" letter-spacing="0.40">0.5</text>
<text transform="translate(0.50 331.40)" font-size="16.6" text-anchor="start" letter-spacing="0.40">(d)</text>
<text transform="translate(126.80 329.10) translate(0.30 0)" font-size="18" text-anchor="middle" letter-spacing="0.60">TE</text>
<text transform="translate(92.60 520.30)" font-size="16.9" text-anchor="start" letter-spacing="0.80">Δ<tspan font-style="italic" dx="0.6">Y</tspan></text>
<text transform="translate(128.90 520.30)" font-size="16.9" text-anchor="start" letter-spacing="0.80">(<tspan font-style="italic" dx="0.5">μ</tspan><tspan dx="0.8">m)</tspan></text>
<text transform="translate(12.30 444.65) rotate(-90.0) scale(1.120 1)" font-size="17.4" text-anchor="start" letter-spacing="0.80">ΔZ</text>
<text transform="translate(12.30 409.65) rotate(-90.0)" font-size="16.9" text-anchor="start" letter-spacing="0.80">(<tspan font-style="italic" dx="0.5">μ</tspan><tspan dx="0.8">m)</tspan></text>
<text transform="translate(255.3 409.2) rotate(-90) scale(1.09 1)" font-size="16" font-style="italic" font-family="Liberation Serif, serif" text-anchor="middle" stroke="none">η</text>
<rect x="309.2" y="331.0" width="157.2" height="155.3" fill="url(#geL)"/>
<rect x="309.2" y="331.0" width="157.2" height="155.3" fill="url(#geR)" mask="url(#me)"/>
<path d="M309.4,351 L345,353.4 L380,354.3 L393.5,357 L383,358.6" stroke="#f4f8ee" stroke-width="1.25" fill="none" stroke-linecap="round" stroke-linejoin="round" opacity="0.88"/>
<path d="M309.4,359.6 L338,358.6" stroke="#f4f8ee" stroke-width="1.25" fill="none" stroke-linecap="round" stroke-linejoin="round" opacity="0.88"/>
<path d="M309.4,390.8 L336.3,390" stroke="#f4f8ee" stroke-width="1.25" fill="none" stroke-linecap="round" stroke-linejoin="round" opacity="0.88"/>
<path d="M395.2,390.8 L438.5,388.3 L466,385.6" stroke="#f4f8ee" stroke-width="1.25" fill="none" stroke-linecap="round" stroke-linejoin="round" opacity="0.88"/>
<path d="M309.4,451.3 L381.3,449" stroke="#f4f8ee" stroke-width="1.25" fill="none" stroke-linecap="round" stroke-linejoin="round" opacity="0.88"/>
<path d="M438.5,446.8 L466,444.4" stroke="#f4f8ee" stroke-width="1.25" fill="none" stroke-linecap="round" stroke-linejoin="round" opacity="0.88"/>
<path d="M309.4,477.3 L391.7,477.3" stroke="#f4f8ee" stroke-width="1.25" fill="none" stroke-linecap="round" stroke-linejoin="round" opacity="0.88"/>
<path d="M440.2,472 L466,467.6" stroke="#f4f8ee" stroke-width="1.25" fill="none" stroke-linecap="round" stroke-linejoin="round" opacity="0.88"/>
<path d="M309.2,343.94 h2.2 M466.4,343.94 h-2.2 M309.2,356.88 h2.2 M466.4,356.88 h-2.2 M309.2,369.82 h2.2 M466.4,369.82 h-2.2 M309.2,382.77 h3.4 M466.4,382.77 h-3.4 M309.2,395.71 h2.2 M466.4,395.71 h-2.2 M309.2,408.65 h2.2 M466.4,408.65 h-2.2 M309.2,421.59 h2.2 M466.4,421.59 h-2.2 M309.2,434.53 h3.4 M466.4,434.53 h-3.4 M309.2,447.48 h2.2 M466.4,447.48 h-2.2 M309.2,460.42 h2.2 M466.4,460.42 h-2.2 M309.2,473.36 h2.2 M466.4,473.36 h-2.2 M324.92,486.3 v-2.2 M324.92,331.0 v1.7 M340.64,486.3 v-2.2 M340.64,331.0 v1.7 M356.36,486.3 v-2.2 M356.36,331.0 v1.7 M372.08,486.3 v-2.2 M372.08,331.0 v1.7 M387.80,486.3 v-3.4 M387.80,331.0 v2.5 M403.52,486.3 v-2.2 M403.52,331.0 v1.7 M419.24,486.3 v-2.2 M419.24,331.0 v1.7 M434.96,486.3 v-2.2 M434.96,331.0 v1.7 M450.68,486.3 v-2.2 M450.68,331.0 v1.7" stroke="#141414" stroke-width="1" fill="none" opacity="0.9"/>
<rect x="309.65" y="331.45" width="156.30" height="154.40" fill="none" stroke="#0c0c34" stroke-width="0.9" opacity="0.75"/>
<text transform="translate(363.50 362.70) rotate(-3.0) translate(0.42 0)" font-size="16.4" text-anchor="middle" letter-spacing="0.85">0.97</text>
<text transform="translate(365.40 395.70) translate(0.42 0)" font-size="16.4" text-anchor="middle" letter-spacing="0.85">0.975</text>
<text transform="translate(410.00 453.50) rotate(-2.0) translate(0.42 0)" font-size="16.4" text-anchor="middle" letter-spacing="0.85">0.975</text>
<text transform="translate(415.00 480.50) rotate(-5.0) translate(0.42 0)" font-size="16.4" text-anchor="middle" letter-spacing="0.85">0.97</text>
<rect x="469.4" y="331.0" width="5.2" height="155.8" fill="url(#cb)"/>
<text transform="translate(482.20 336.50)" font-size="16.3" text-anchor="start" letter-spacing="0.30">1</text>
<text transform="translate(482.20 414.55)" font-size="16.3" text-anchor="start" letter-spacing="0.30">0.9</text>
<text transform="translate(482.20 492.50)" font-size="16.3" text-anchor="start" letter-spacing="0.30">0.8</text>
<text transform="translate(305.60 336.50) translate(0.50 0)" font-size="16.3" text-anchor="end" letter-spacing="0.50">0.3</text>
<text transform="translate(305.60 388.47) translate(0.50 0)" font-size="16.3" text-anchor="end" letter-spacing="0.50">0.1</text>
<text transform="translate(305.60 440.03) translate(0.50 0)" font-size="16.3" text-anchor="end" letter-spacing="0.50">-0.1</text>
<text transform="translate(305.60 492.40) translate(0.50 0)" font-size="16.3" text-anchor="end" letter-spacing="0.50">-0.3</text>
<text transform="translate(308.40 506.40) translate(0.20 0)" font-size="16.3" text-anchor="middle" letter-spacing="0.40">-0.5</text>
<text transform="translate(388.70 506.40) translate(0.20 0)" font-size="16.3" text-anchor="middle" letter-spacing="0.40">0</text>
<text transform="translate(466.20 506.40) translate(0.20 0)" font-size="16.3" text-anchor="middle" letter-spacing="0.40">0.5</text>
<text transform="translate(261.00 331.40)" font-size="16.6" text-anchor="start" letter-spacing="0.40">(e)</text>
<text transform="translate(387.90 329.10) translate(0.30 0)" font-size="18" text-anchor="middle" letter-spacing="0.60">TM</text>
<text transform="translate(353.70 520.30)" font-size="16.9" text-anchor="start" letter-spacing="0.80">Δ<tspan font-style="italic" dx="0.6">Y</tspan></text>
<text transform="translate(390.00 520.30)" font-size="16.9" text-anchor="start" letter-spacing="0.80">(<tspan font-style="italic" dx="0.5">μ</tspan><tspan dx="0.8">m)</tspan></text>
<text transform="translate(272.80 444.65) rotate(-90.0) scale(1.120 1)" font-size="17.4" text-anchor="start" letter-spacing="0.80">ΔZ</text>
<text transform="translate(272.80 409.65) rotate(-90.0)" font-size="16.9" text-anchor="start" letter-spacing="0.80">(<tspan font-style="italic" dx="0.5">μ</tspan><tspan dx="0.8">m)</tspan></text>
<text transform="translate(516.8 409.2) rotate(-90) scale(1.09 1)" font-size="16" font-style="italic" font-family="Liberation Serif, serif" text-anchor="middle" stroke="none">η</text>
</svg>
</body></html>
